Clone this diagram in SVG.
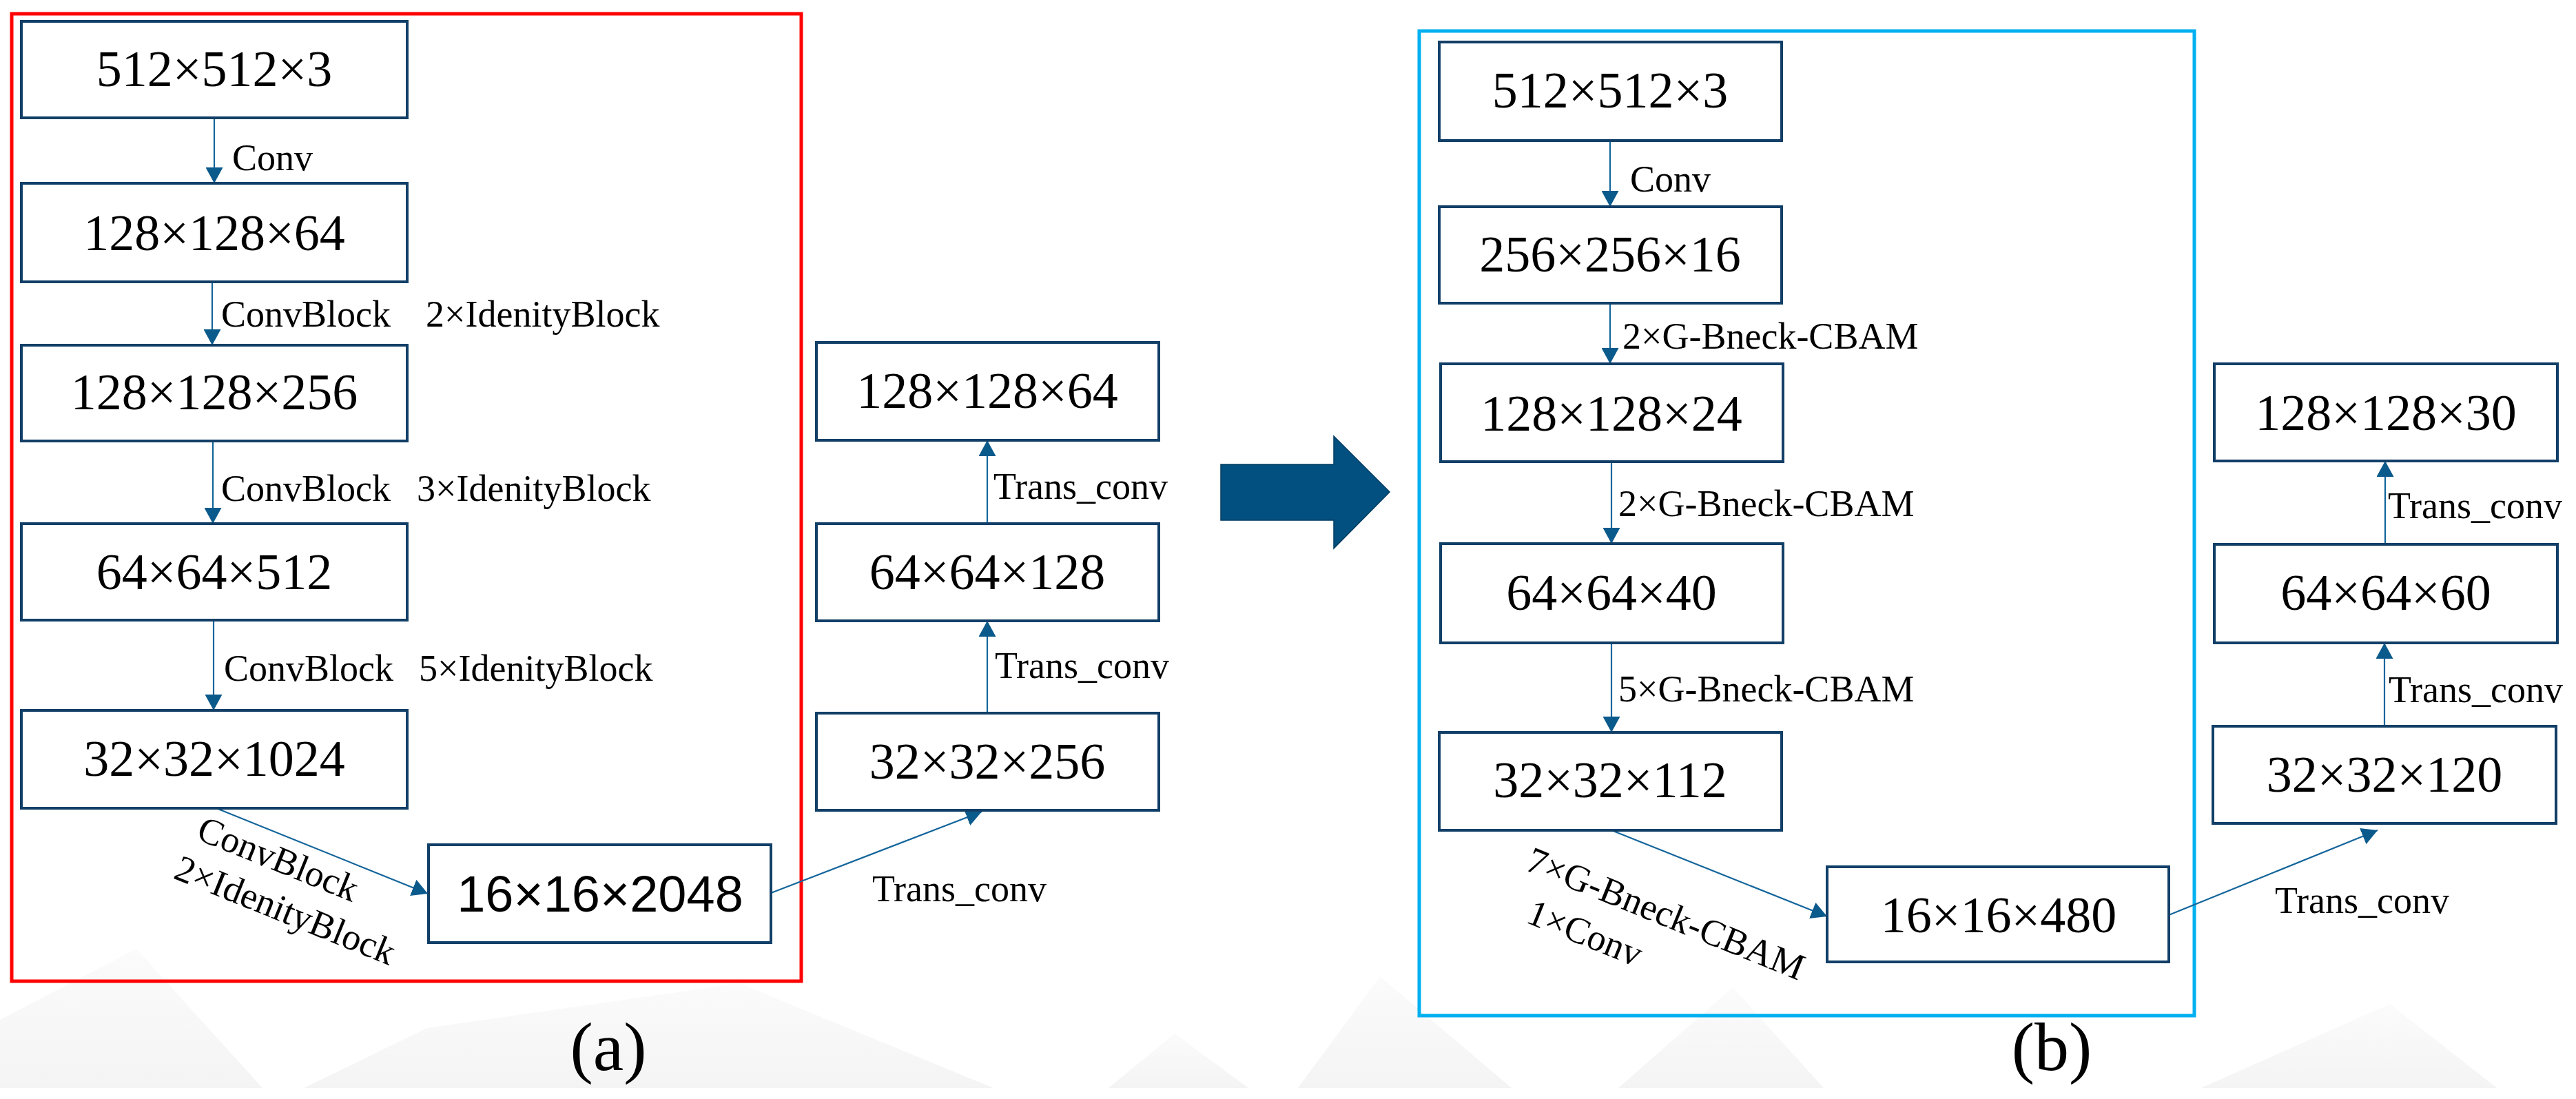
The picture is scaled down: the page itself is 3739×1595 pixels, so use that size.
<svg xmlns="http://www.w3.org/2000/svg" width="3739" height="1595" viewBox="0 0 3739 1595">
<style>
.bg{fill:url(#fade)}
.box{fill:#ffffff;stroke:#123f67;stroke-width:4}
.num{font-family:"Liberation Serif","Times New Roman",serif;font-size:74px;fill:#000;text-anchor:middle}
.sans{font-family:"Liberation Sans",Arial,sans-serif;font-size:74px;fill:#000;text-anchor:middle}
.lbl{font-family:"Liberation Serif","Times New Roman",serif;font-size:54px;fill:#000}
.cap{font-family:"Liberation Serif","Times New Roman",serif;font-size:100px;fill:#000;text-anchor:middle}
.edge{stroke:#13659b;stroke-width:2.2;fill:none;marker-end:url(#ah)}
</style>
<defs>
<marker id="ah" viewBox="0 0 22 24" refX="22" refY="12" markerWidth="23" markerHeight="25" markerUnits="userSpaceOnUse" orient="auto">
<path d="M0,0 L22,12 L0,24 z" fill="#0b5a8c"/>
</marker>
<linearGradient id="fade" x1="0" y1="0" x2="0" y2="1">
<stop offset="0" stop-color="#fbfbfb"/>
<stop offset="1" stop-color="#f4f4f4"/>
</linearGradient>
</defs>
<rect x="0" y="0" width="3739" height="1595" fill="#ffffff"/>
<g id="background">
<polygon class="bg" points="0,1480 198,1377 381,1579 0,1579"/>
<polygon class="bg" points="441,1579 620,1492 1073,1427 1442,1579"/>
<polygon class="bg" points="1609,1579 1705,1500 1812,1579"/>
<polygon class="bg" points="1884,1579 2003,1417 2194,1579"/>
<polygon class="bg" points="2349,1579 2515,1433 2647,1579"/>
<polygon class="bg" points="3195,1579 3469,1457 3624,1579"/>
</g>
<g id="frame-a"><rect x="17" y="20" width="1146" height="1404" fill="none" stroke="#ff0000" stroke-width="5"/></g>
<g id="frame-b"><rect x="2060" y="45" width="1125" height="1429" fill="none" stroke="#00b0f0" stroke-width="5"/></g>
<g id="big-arrow"><polygon points="1772,674 1936,674 1936,633 2017,714 1936,796 1936,755 1772,755" fill="#01507f" stroke="#003d62" stroke-width="1.5"/></g>

<g id="connectors">
<line class="edge" x1="311" y1="171" x2="311" y2="266"/>
<line class="edge" x1="308" y1="409" x2="308" y2="501"/>
<line class="edge" x1="309" y1="640" x2="309" y2="760"/>
<line class="edge" x1="310" y1="900" x2="310" y2="1031"/>
<line class="edge" x1="314" y1="1173" x2="621" y2="1297"/>
<line class="edge" x1="1119" y1="1296" x2="1425" y2="1178"/>
<line class="edge" x1="1433" y1="1035" x2="1433" y2="901"/>
<line class="edge" x1="1433" y1="760" x2="1433" y2="639"/>
<line class="edge" x1="2337" y1="204" x2="2337" y2="300"/>
<line class="edge" x1="2337" y1="440" x2="2337" y2="528"/>
<line class="edge" x1="2339" y1="670" x2="2339" y2="789"/>
<line class="edge" x1="2339" y1="933" x2="2339" y2="1063"/>
<line class="edge" x1="2339" y1="1205" x2="2652" y2="1330"/>
<line class="edge" x1="3148" y1="1328" x2="3451" y2="1205"/>
<line class="edge" x1="3461" y1="1054" x2="3461" y2="933"/>
<line class="edge" x1="3462" y1="790" x2="3462" y2="669"/>
</g>

<g id="edge-labels">
<text class="lbl" x="337" y="247">Conv</text>
<text class="lbl" x="321" y="474">ConvBlock</text>
<text class="lbl" x="618" y="474">2×IdenityBlock</text>
<text class="lbl" x="321" y="727">ConvBlock</text>
<text class="lbl" x="605" y="727">3×IdenityBlock</text>
<text class="lbl" x="325" y="988">ConvBlock</text>
<text class="lbl" x="608" y="988">5×IdenityBlock</text>
<text class="lbl" transform="translate(283,1217) rotate(22)">ConvBlock</text>
<text class="lbl" transform="translate(250,1274) rotate(22)">2×IdenityBlock</text>
<text class="lbl" x="1266" y="1308">Trans_conv</text>
<text class="lbl" x="1444" y="984">Trans_conv</text>
<text class="lbl" x="1442" y="724">Trans_conv</text>
<text class="lbl" x="2366" y="278">Conv</text>
<text class="lbl" x="2355" y="506">2×G-Bneck-CBAM</text>
<text class="lbl" x="2349" y="749">2×G-Bneck-CBAM</text>
<text class="lbl" x="2349" y="1018">5×G-Bneck-CBAM</text>
<text class="lbl" transform="translate(2212,1262) rotate(22)">7×G-Bneck-CBAM</text>
<text class="lbl" transform="translate(2213,1338) rotate(22)">1×Conv</text>
<text class="lbl" x="3302" y="1325">Trans_conv</text>
<text class="lbl" x="3467" y="1019">Trans_conv</text>
<text class="lbl" x="3466" y="752">Trans_conv</text>
</g>

<g id="a1"><rect class="box" x="31" y="31" width="560" height="140"/><text class="num" x="311" y="125">512×512×3</text></g>
<g id="a2"><rect class="box" x="31" y="266" width="560" height="143"/><text class="num" x="311" y="363">128×128×64</text></g>
<g id="a3"><rect class="box" x="31" y="501" width="560" height="139"/><text class="num" x="311" y="594">128×128×256</text></g>
<g id="a4"><rect class="box" x="31" y="760" width="560" height="140"/><text class="num" x="311" y="855">64×64×512</text></g>
<g id="a5"><rect class="box" x="31" y="1031" width="560" height="142"/><text class="num" x="311" y="1126">32×32×1024</text></g>
<g id="a6"><rect class="box" x="622" y="1226" width="497" height="142"/><text class="sans" x="871" y="1323">16×16×2048</text></g>
<g id="a7"><rect class="box" x="1185" y="497" width="497" height="142"/><text class="num" x="1433" y="592">128×128×64</text></g>
<g id="a8"><rect class="box" x="1185" y="760" width="497" height="141"/><text class="num" x="1433" y="855">64×64×128</text></g>
<g id="a9"><rect class="box" x="1185" y="1035" width="497" height="141"/><text class="num" x="1433" y="1130">32×32×256</text></g>

<g id="b1"><rect class="box" x="2089" y="61" width="497" height="143"/><text class="num" x="2337" y="156">512×512×3</text></g>
<g id="b2"><rect class="box" x="2089" y="300" width="497" height="140"/><text class="num" x="2337" y="394">256×256×16</text></g>
<g id="b3"><rect class="box" x="2091" y="528" width="497" height="142"/><text class="num" x="2339" y="625">128×128×24</text></g>
<g id="b4"><rect class="box" x="2091" y="789" width="497" height="144"/><text class="num" x="2339" y="885">64×64×40</text></g>
<g id="b5"><rect class="box" x="2089" y="1063" width="497" height="142"/><text class="num" x="2337" y="1157">32×32×112</text></g>
<g id="b6"><rect class="box" x="2652" y="1258" width="496" height="138"/><text class="num" x="2901" y="1353">16×16×480</text></g>
<g id="c1"><rect class="box" x="3214" y="528" width="498" height="141"/><text class="num" x="3463" y="624">128×128×30</text></g>
<g id="c2"><rect class="box" x="3214" y="790" width="498" height="143"/><text class="num" x="3463" y="885">64×64×60</text></g>
<g id="c3"><rect class="box" x="3212" y="1054" width="498" height="141"/><text class="num" x="3461" y="1149">32×32×120</text></g>

<g id="captions">
<text class="cap" x="883" y="1553">(a)</text>
<text class="cap" x="2978" y="1553">(b)</text>
</g>
</svg>
